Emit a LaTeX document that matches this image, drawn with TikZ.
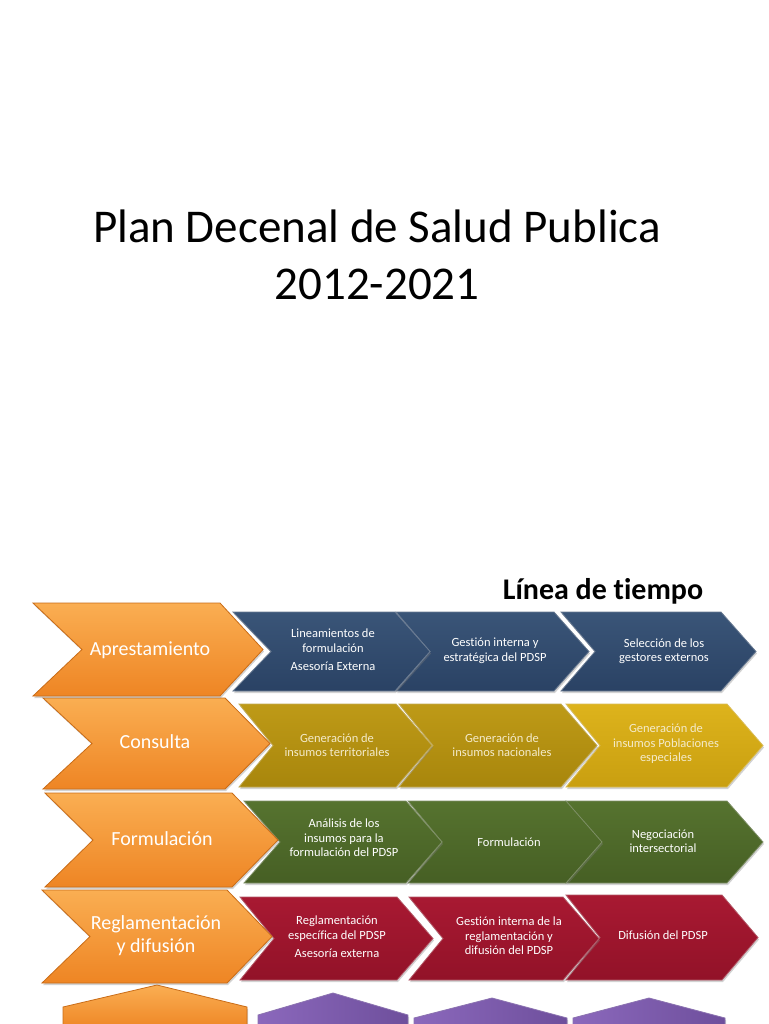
\documentclass[tikz,border=0pt]{standalone}
\usepackage{fontspec}
\setmainfont{Carlito}[Ligatures=NoCommon]
\usetikzlibrary{shadows}
\definecolor{orL}{HTML}{FAAE52}
\definecolor{orD}{HTML}{EE8524}
\definecolor{orE}{HTML}{C96C17}
\definecolor{navL}{HTML}{3A5578}
\definecolor{navD}{HTML}{2A4264}
\definecolor{goL}{HTML}{BE9A17}
\definecolor{goD}{HTML}{A8860C}
\definecolor{go2L}{HTML}{DDB31C}
\definecolor{go2D}{HTML}{C99F10}
\definecolor{grL}{HTML}{56732F}
\definecolor{grD}{HTML}{465F24}
\definecolor{reL}{HTML}{A81932}
\definecolor{reD}{HTML}{921228}
\definecolor{puL}{HTML}{8B68BC}
\definecolor{puD}{HTML}{6E4F9C}
\definecolor{cream}{HTML}{F4EBCB}
\newcommand\chev[7]{%
  \path[#1] (#2,#3) -- ({#4-#6},#3) -- (#4,{(#3+#5)/2}) -- ({#4-#6},#5) -- (#2,#5) -- ({#2+#7},{(#3+#5)/2}) -- cycle;}
\newcommand\penta[6]{%
  \path[#1] (#2,#5) -- (#4,#6) -- (#3,#5) -- (#3,1030) -- (#2,1030) -- cycle;}
\tikzset{
  shad/.style={drop shadow={opacity=0.35, shadow xshift=1pt, shadow yshift=-2pt}},
  orchev/.style={shad, top color=orL, bottom color=orD, draw=orE, line width=0.8pt},
  navchev/.style={shad, top color=navL, bottom color=navD, draw=navD!70!white, line width=0.8pt},
  gochev/.style={shad, top color=goL, bottom color=goD, draw=goD!70!white, line width=0.8pt},
  go2chev/.style={shad, top color=go2L, bottom color=go2D, draw=go2D!70!white, line width=0.8pt},
  grchev/.style={shad, top color=grL, bottom color=grD, draw=grD!70!white, line width=0.8pt},
  rechev/.style={shad, top color=reL, bottom color=reD, draw=reD!70!white, line width=0.8pt},
  puchev/.style={shad, left color=puL, right color=puD, draw=puD!80!white, line width=0.8pt},
  orpent/.style={shad, top color=orL, bottom color=orD, draw=orE, line width=0.8pt},
  big/.style={font=\fontsize{20}{23}\selectfont, text=white, align=center, inner sep=0pt},
  small/.style={font=\fontsize{12.5}{14.5}\selectfont, text=white, align=center, inner sep=0pt},
  smallc/.style={small, text=cream},
}
\begin{document}
\begin{tikzpicture}[x=1pt,y=-1pt]
\useasboundingbox (0,0) rectangle (768,1024);
\fill[white] (0,0) rectangle (768,1024);

% title
\node[font=\fontsize{47}{57}\selectfont, align=center, inner sep=0pt] (title) at (377,255)
  {Plan Decenal de Salud Publica\\2012-2021};
\node[font=\bfseries\fontsize{30}{33}\selectfont, inner sep=0pt] (linea) at (603,591) {Línea de tiempo};

\begin{scope}
\clip (0,0) rectangle (768,1024);
% bottom row (partially visible)
\penta{orpent}{63}{247}{157}{1007}{985}
\penta{puchev}{258}{408}{333}{1015}{993}
\penta{puchev}{414}{567}{492}{1018}{998}
\penta{puchev}{573}{725}{649}{1018}{998}

% row 4 red
\chev{rechev}{566}{895}{758}{980}{36}{34}
\chev{rechev}{409}{897}{599}{980}{36}{34}
\chev{rechev}{240}{897}{433}{980}{36}{34}
% row 3 green
\chev{grchev}{566}{801}{763}{883}{36}{34}
\chev{grchev}{408}{801}{602}{883}{36}{34}
\chev{grchev}{244}{801}{442}{883}{36}{36}
% row 2 gold
\chev{go2chev}{566}{704}{763}{787}{36}{34}
\chev{gochev}{399}{704}{597}{787}{36}{34}
\chev{gochev}{239}{704}{432}{787}{36}{34}
% row 1 navy
\chev{navchev}{561}{612}{756}{691}{35}{34}
\chev{navchev}{396}{612}{589}{691}{35}{34}
\chev{navchev}{233}{612}{430}{691}{35}{38}

% orange column
\chev{orchev}{42}{890}{272}{983}{45}{48}
\chev{orchev}{45}{793}{278}{887}{46}{48}
\chev{orchev}{43}{698}{270}{789}{45}{49}
\chev{orchev}{33}{603}{263}{696}{43}{49}
\end{scope}

% orange labels
\node[big] (o1) at (150,650) {Aprestamiento};
\node[big] (o2) at (155,742) {Consulta};
\node[big] (o3) at (162,839) {Formulación};
\node[big] (o4) at (156,936) {Reglamentación\\y difusión};

% navy labels
\node[small] (n1) at (333,650) {Lineamientos de\\formulación\\[4pt]Asesoría Externa};
\node[small] (n2) at (495,651) {Gestión interna y\\estratégica del PDSP};
\node[small] (n3) at (664,651) {Selección de los\\gestores externos};
% gold labels
\node[smallc] (g1) at (337,745) {Generación de\\insumos territoriales};
\node[smallc] (g2) at (502,745) {Generación de\\insumos nacionales};
\node[smallc] (g3) at (666,744) {Generación de\\insumos Poblaciones\\especiales};
% green labels
\node[small] (v1) at (344,838) {Análisis de los\\insumos para la\\formulación del PDSP};
\node[small] (v2) at (509,842) {Formulación};
\node[small] (v3) at (663,841) {Negociación\\intersectorial};
% red labels
\node[small] (r1) at (337,937) {Reglamentación\\específica del PDSP\\[4pt]Asesoría externa};
\node[small] (r2) at (509,936) {Gestión interna de la\\reglamentación y\\difusión del PDSP};
\node[small] (r3) at (663,935) {Difusión del PDSP};
\end{tikzpicture}
\end{document}
